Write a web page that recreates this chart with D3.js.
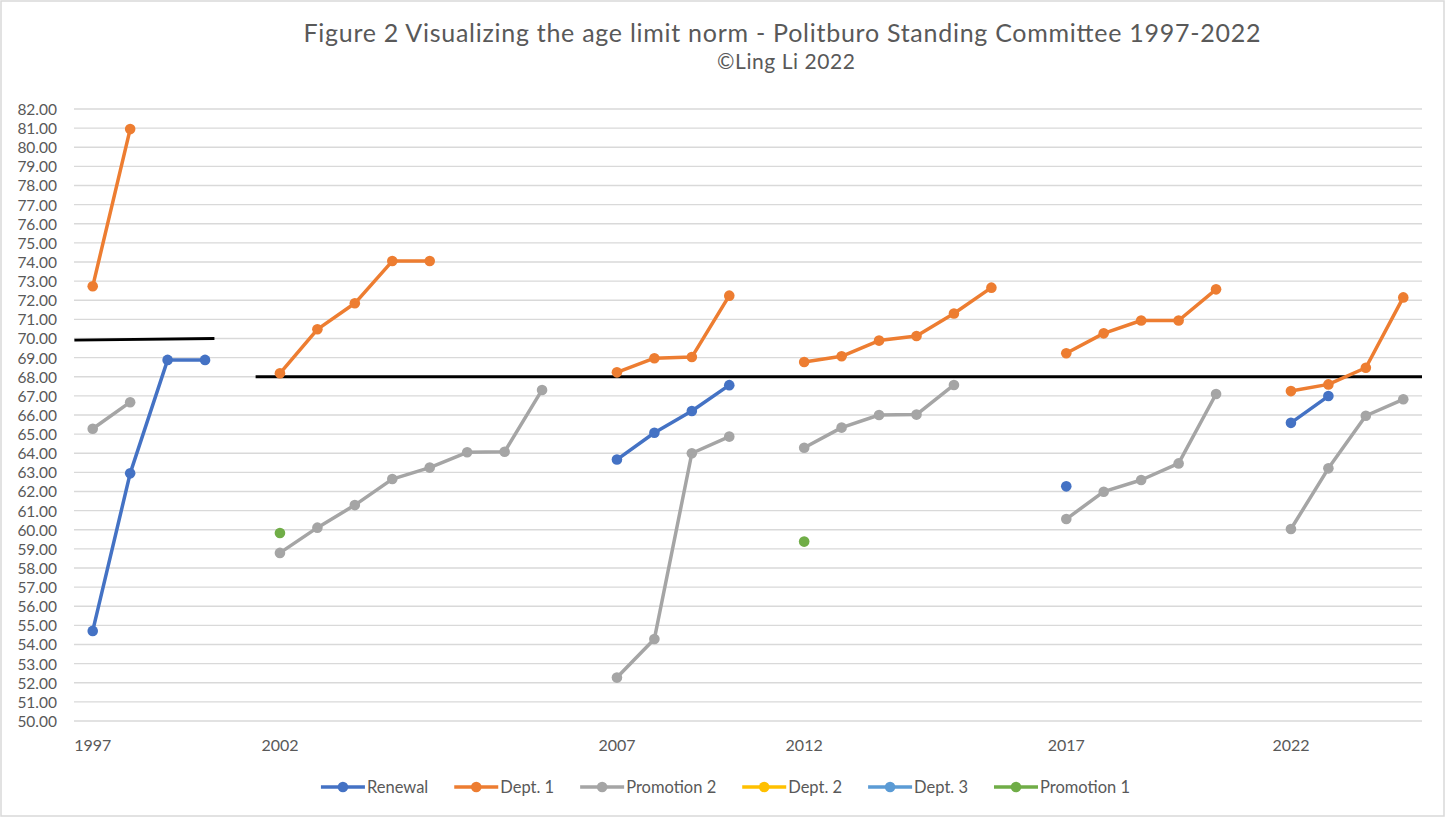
<!DOCTYPE html>
<html>
<head>
<meta charset="utf-8">
<script src="https://cdn.jsdelivr.net/npm/d3@7"></script>
<style>
  body { margin: 0; background: #fff; }
  svg { display: block; font-family: Lato, "Open Sans", sans-serif; }
</style>
</head>
<body>
<svg id="chart" width="1446" height="818"></svg>
<script>
// ===== data =====
const categories = ["1997","","","","","2002","","","","","","","","","2007","","","","","2012",
                    "","","","","","","2017","","","","","","2022","","",""];

// null = no value (gap in the line)
const renewal = [54.71,62.95,68.88,68.88,null,null,null,null,null,null,null,null,null,null,
                 63.67,65.07,66.21,67.56,null,null,null,null,null,null,null,null,
                 62.27,null,null,null,null,null,65.59,66.99,null,null];
const dept1 = [72.73,80.95,null,null,null,68.18,70.48,71.84,74.05,74.05,null,null,null,null,
               68.23,68.97,69.03,72.24,null,68.77,69.07,69.89,70.13,71.31,72.66,null,
               69.23,70.27,70.94,70.94,72.57,null,67.25,67.60,68.47,72.15];
const promotion2 = [65.28,66.67,null,null,null,58.79,60.11,61.29,62.65,63.25,64.05,64.08,67.31,null,
                    52.27,54.29,64.00,64.87,null,64.29,65.34,66.00,66.02,67.57,null,null,
                    60.56,61.99,62.60,63.47,67.10,null,60.04,63.21,65.96,66.82];
const dept2 = categories.map(() => null);
const dept3 = categories.map(() => null);
const promotion1 = [null,null,null,null,null,59.83,null,null,null,null,null,null,null,null,
                    null,null,null,null,null,59.38,null,null,null,null,null,null,
                    null,null,null,null,null,null,null,null,null,null];

const seriesNames = ["Renewal","Dept. 1","Promotion 2","Dept. 2","Dept. 3","Promotion 1"];
const seriesColors = ["#4472C4","#ED7D31","#A5A5A5","#FFC000","#5B9BD5","#70AD47"];
const seriesValues = [renewal, dept1, promotion2, dept2, dept3, promotion1];

// age limit lines (category position, value)
const limitFrom = [-0.49, 4.35];
const limitTo   = [3.25, 35.5];
const limitStart = [69.92, 68];
const limitEnd   = [70.0, 68];

const yTicks = d3.range(50, 82.001, 1);

// ===== layout =====
const svg = d3.select("#chart");
const plotLeft = 74, plotRight = 1422, plotTop = 109, plotBottom = 721;

// border
svg.append("rect")
  .attr("x", 1).attr("y", 1).attr("width", 1443).attr("height", 815)
  .attr("fill", "#fff").attr("stroke", "#D9D9D9").attr("stroke-width", 1.5);

const x = d3.scaleLinear().domain([-0.5, categories.length - 0.5]).range([plotLeft, plotRight]);
const y = d3.scaleLinear().domain([50, 82]).range([plotBottom, plotTop]);

// gridlines
svg.append("g").selectAll("line")
  .data(yTicks)
  .enter().append("line")
  .attr("x1", plotLeft).attr("x2", plotRight)
  .attr("y1", d => y(d)).attr("y2", d => y(d))
  .attr("stroke", "#D9D9D9").attr("stroke-width", 1.3);

// y axis labels
const yAxis = d3.axisLeft(y).tickValues(yTicks).tickFormat(d3.format(".2f")).tickSize(0).tickPadding(0);
const gy = svg.append("g").attr("transform", "translate(57,0)").call(yAxis);
gy.select(".domain").remove();
gy.selectAll("text").attr("fill", "#595959").style("font-size", "15.5px")
  .style("font-family", "Lato, 'Open Sans', sans-serif").attr("dy", "0.35em");

// x axis labels
svg.append("g").selectAll("text")
  .data(categories)
  .enter().append("text")
  .attr("x", (d, i) => x(i))
  .attr("y", 745)
  .attr("dy", "0.35em")
  .attr("text-anchor", "middle")
  .attr("fill", "#595959")
  .style("font-size", "16px")
  .text(d => d);

// age limit lines
svg.append("g").selectAll("line")
  .data(limitFrom)
  .enter().append("line")
  .attr("x1", (d, i) => x(limitFrom[i]))
  .attr("x2", (d, i) => x(limitTo[i]))
  .attr("y1", (d, i) => y(limitStart[i]))
  .attr("y2", (d, i) => y(limitEnd[i]))
  .attr("stroke", "#000").attr("stroke-width", 2.8);

// series
const line = d3.line()
  .defined(d => d != null)
  .x((d, i) => x(i))
  .y(d => y(d));

seriesValues.forEach((vals, s) => {
  const g = svg.append("g");
  g.append("path")
    .attr("d", line(vals))
    .attr("fill", "none")
    .attr("stroke", seriesColors[s])
    .attr("stroke-width", 3.5)
    .attr("stroke-linejoin", "round");
  g.selectAll("circle")
    .data(vals.map((v, i) => ({v, i})).filter(d => d.v != null))
    .enter().append("circle")
    .attr("cx", d => x(d.i))
    .attr("cy", d => y(d.v))
    .attr("r", 5.3)
    .attr("fill", seriesColors[s]);
});

// title
svg.append("text")
  .attr("x", 782).attr("y", 33).attr("dy", "0.35em")
  .attr("text-anchor", "middle")
  .attr("fill", "#595959")
  .style("font-size", "25px")
  .attr("textLength", 957).attr("lengthAdjust", "spacing")
  .text("Figure 2 Visualizing the age limit norm - Politburo Standing Committee 1997-2022");
svg.append("text")
  .attr("x", 786).attr("y", 62).attr("dy", "0.35em")
  .attr("text-anchor", "middle")
  .attr("fill", "#595959")
  .style("font-size", "21px")
  .attr("textLength", 138).attr("lengthAdjust", "spacing")
  .text("\u00A9Ling Li 2022");

// legend
const legend = svg.append("g");
const items = legend.selectAll("g")
  .data(seriesNames)
  .enter().append("g");
items.append("line")
  .attr("x1", 0).attr("x2", 44).attr("y1", 0).attr("y2", 0)
  .attr("stroke", (d, i) => seriesColors[i]).attr("stroke-width", 3.5);
items.append("circle")
  .attr("cx", 22).attr("cy", 0).attr("r", 5.3)
  .attr("fill", (d, i) => seriesColors[i]);
items.append("text")
  .attr("x", 46).attr("y", 0).attr("dy", "0.35em")
  .attr("fill", "#595959")
  .style("font-size", "16.5px")
  .text(d => d);

const gap = 26;
let cx = 0;
const offsets = [];
items.each(function () {
  offsets.push(cx);
  cx += 46 + this.querySelector("text").getComputedTextLength() + gap;
});
const total = cx - gap;
const startX = 725.5 - total / 2;
items.attr("transform", (d, i) => "translate(" + (startX + offsets[i]) + ",787)");
</script>
</body>
</html>
